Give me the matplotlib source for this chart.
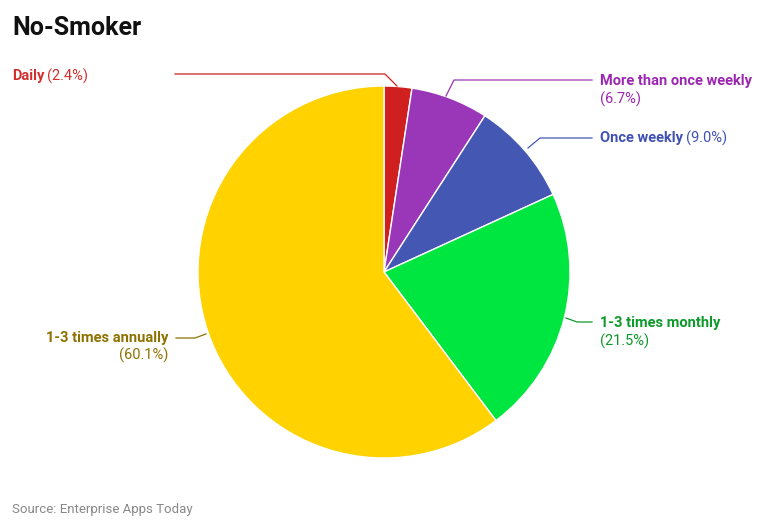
import matplotlib
matplotlib.use("Agg")
import matplotlib.pyplot as plt
from matplotlib.lines import Line2D

plt.rcParams['font.family'] = ['Roboto', 'DejaVu Sans']

categories = ["Daily", "More than once weekly", "Once weekly", "1-3 times monthly", "1-3 times annually"]
values = [2.4, 6.7, 9.0, 21.5, 60.1]
colors = ["#d01f1f", "#9a36b8", "#4457b3", "#00e640", "#ffd200"]
label_colors = ["#d32f2f", "#9c27b0", "#3f51b5", "#0d9a2a", "#8d7200"]

W, H = 768, 530
fig = plt.figure(figsize=(W/100, H/100), dpi=100)
ax = fig.add_axes([(384-186)/W, (H-272-186)/H, 372/W, 372/H])
ax.pie(values, colors=colors, startangle=90, counterclock=False,
       wedgeprops=dict(edgecolor="white", linewidth=1))
ax.set_xlim(-1, 1); ax.set_ylim(-1, 1)
ax.set_aspect('equal')
ax.axis('off')

def fx(x): return x / W
def fy(y): return 1 - y / H

renderer = fig.canvas.get_renderer()
FS = 10.5

def two_part(x, y, name, pct, color):
    t = fig.text(fx(x), fy(y), name, fontsize=FS, fontweight="bold", color=color, va="center")
    bb = t.get_window_extent(renderer)
    fig.text(fx(x) + bb.width / W + 3 / W, fy(y), pct, fontsize=FS, color=color, va="center")

def lines(pts, color):
    xs = [fx(p[0]) for p in pts]; ys = [fy(p[1]) for p in pts]
    fig.add_artist(Line2D(xs, ys, color=color, linewidth=0.9, transform=fig.transFigure))

two_part(12, 76, "Daily", "(2.4%)", label_colors[0])
lines([(397, 86), (385, 74), (175, 74)], colors[0])

fig.text(fx(600), fy(81), "More than once weekly", fontsize=FS, fontweight="bold", color=label_colors[1], va="center")
fig.text(fx(600), fy(99), "(6.7%)", fontsize=FS, color=label_colors[1], va="center")
lines([(446, 96), (454, 80), (592, 80)], colors[1])

two_part(600, 138, "Once weekly", "(9.0%)", label_colors[2])
lines([(528, 148), (540, 138), (592, 138)], colors[2])

fig.text(fx(600), fy(323), "1-3 times monthly", fontsize=FS, fontweight="bold", color=label_colors[3], va="center")
fig.text(fx(600), fy(341), "(21.5%)", fontsize=FS, color=label_colors[3], va="center")
lines([(566, 318), (577, 322), (592, 322)], "#0d9a2a")

fig.text(fx(168), fy(338), "1-3 times annually", fontsize=FS, fontweight="bold", color=label_colors[4], va="center", ha="right")
fig.text(fx(168), fy(355), "(60.1%)", fontsize=FS, color=label_colors[4], va="center", ha="right")
lines([(206, 334), (195, 338), (176, 338)], "#8d7200")

fig.text(fx(12), fy(28), "No-Smoker", fontsize=18, fontweight="bold", color="#111111", va="center")
fig.text(fx(12), fy(509), "Source: Enterprise Apps Today", fontsize=9.5, color="#888888", va="center")

fig.savefig("out.png", dpi=100)
